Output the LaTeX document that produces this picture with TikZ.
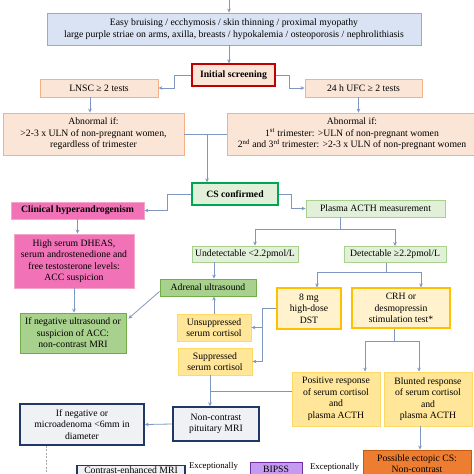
\documentclass[tikz,border=0pt]{standalone}
\usepackage{fontspec}
\setmainfont{Liberation Serif}
\usetikzlibrary{arrows.meta,calc}

\definecolor{lineblue}{HTML}{7F96C0}
\definecolor{bluefill}{HTML}{DAE3F3}
\definecolor{blueline}{HTML}{8FAADC}
\definecolor{peachfill}{HTML}{FBE5D6}
\definecolor{peachline}{HTML}{F4B183}
\definecolor{darkred}{HTML}{C00000}
\definecolor{mintfill}{HTML}{E2F0D9}
\definecolor{mintline}{HTML}{A9D18E}
\definecolor{leafline}{HTML}{70AD47}
\definecolor{csgreen}{HTML}{00A651}
\definecolor{pinkfill}{HTML}{F272B8}
\definecolor{pinkline}{HTML}{F4A6C9}
\definecolor{yellowfill}{HTML}{FFE699}
\definecolor{yellowline}{HTML}{FFD966}
\definecolor{creamfill}{HTML}{FFF2CC}
\definecolor{goldline}{HTML}{FFC000}
\definecolor{greyfill}{HTML}{F0F1F4}
\definecolor{navyline}{HTML}{1F3864}
\definecolor{lilacfill}{HTML}{C59BF2}
\definecolor{lilacline}{HTML}{7030A0}
\definecolor{orangefill}{HTML}{ED7D31}
\definecolor{orangeline}{HTML}{C55A11}

\tikzset{
  box/.style={rectangle, draw, line width=0.8pt, inner sep=1pt, align=center,
    font=\fontsize{9.7}{11.5}\selectfont},
  bluebox/.style={box, fill=bluefill, draw=blueline},
  peachbox/.style={box, fill=peachfill, draw=peachline},
  screenbox/.style={box, fill=peachfill, draw=darkred, line width=1.3pt},
  mintbox/.style={box, fill=mintfill, draw=mintline},
  confbox/.style={box, fill=mintfill, draw=csgreen, line width=1.3pt},
  leafbox/.style={box, fill=mintline, draw=leafline},
  pinkbox/.style={box, fill=pinkfill, draw=pinkline},
  yellowbox/.style={box, fill=yellowfill, draw=yellowline},
  testbox/.style={box, fill=creamfill, draw=goldline, line width=1.2pt},
  mribox/.style={box, fill=greyfill, draw=navyline, line width=1.4pt},
  lilacbox/.style={box, fill=lilacfill, draw=lilacline},
  orangebox/.style={box, fill=orangefill, draw=orangeline},
  note/.style={inner sep=0pt, font=\fontsize{8.8}{10}\selectfont},
  link/.style={draw=lineblue, line width=0.8pt},
  arr/.style={link, -{Stealth[length=4pt,width=3.6pt]}},
  dashline/.style={draw=gray!70, line width=0.8pt, dash pattern=on 2pt off 1.5pt}
}

\begin{document}
\begin{tikzpicture}[x=1pt, y=-1pt]
\useasboundingbox (0,0) rectangle (474,474);
\clip (0,0) rectangle (474,474);

\node[bluebox, minimum width=374pt, minimum height=32pt] (symp) at (234,29)
  {Easy bruising / ecchymosis / skin thinning / proximal myopathy\\
   large purple striae on arms, axilla, breasts / hypokalemia / osteoporosis / nephrolithiasis};
\node[screenbox, minimum width=83pt, minimum height=22pt] (init) at (233.5,75) {\textbf{Initial screening}};
\node[peachbox, minimum width=118pt, minimum height=18pt] (lnsc) at (99,88) {LNSC ≥ 2 tests};
\node[peachbox, minimum width=117pt, minimum height=18pt] (ufc) at (363.5,88) {24 h UFC ≥ 2 tests};
\node[peachbox, minimum width=181pt, minimum height=42pt] (abnl) at (93.5,134)
  {Abnormal if:\\>2-3 x ULN of non-pregnant women,\\regardless of trimester};
\node[peachbox, minimum width=250pt, minimum height=42pt] (abnr) at (352,134)
  {Abnormal if:\\1\textsuperscript{st} trimester: >ULN of non-pregnant women\\
   2\textsuperscript{nd} and 3\textsuperscript{rd} trimester: >2-3 x ULN of non-pregnant women};

\node[confbox, minimum width=86pt, minimum height=22pt] (cs) at (235,194) {\textbf{CS confirmed}};
\node[pinkbox, minimum width=133pt, minimum height=17pt] (hyp) at (77.5,210.5) {\textbf{Clinical hyperandrogenism}};
\node[mintbox, minimum width=139pt, minimum height=17pt] (acth) at (375.5,208.5) {Plasma ACTH measurement};
\node[pinkbox, minimum width=120pt, minimum height=54pt] (dheas) at (74,261)
  {High serum DHEAS,\\serum androstenedione and\\free testosterone levels:\\ACC suspicion};
\node[leafbox, minimum width=106pt, minimum height=40pt] (usn) at (73,333)
  {If negative ultrasound or\\suspicion of ACC:\\non-contrast MRI};

\node[mintbox, minimum width=106pt, minimum height=16pt] (undet) at (245,254) {Undetectable <2.2pmol/L};
\node[mintbox, minimum width=102pt, minimum height=16pt] (det) at (395,254.5) {Detectable ≥2.2pmol/L};
\node[leafbox, minimum width=96pt, minimum height=17pt] (adr) at (208,287.5) {Adrenal ultrasound};
\node[yellowbox, minimum width=74pt, minimum height=27pt] (unsup) at (214,327.5) {Unsuppressed\\serum cortisol};
\node[yellowbox, minimum width=74pt, minimum height=27pt] (sup) at (215,361.5) {Suppressed\\serum cortisol};
\node[testbox, minimum width=64pt, minimum height=41pt] (dst) at (309,308.5) {8 mg\\high-dose\\DST};
\node[testbox, minimum width=98pt, minimum height=40pt] (crh) at (401,308) {CRH or\\desmopressin\\stimulation test*};
\node[yellowbox, minimum width=88pt, minimum height=54pt] (pos) at (336,399)
  {Positive response\\of serum cortisol\\and\\plasma ACTH};
\node[yellowbox, minimum width=88pt, minimum height=54pt] (blu) at (428,399)
  {Blunted response\\of serum cortisol\\and\\plasma ACTH};

\node[mribox, minimum width=86pt, minimum height=34pt] (pit) at (216,424) {Non-contrast\\pituitary MRI};
\node[mribox, minimum width=124pt, minimum height=41pt] (neg) at (82,424.5)
  {If negative or\\microadenoma <6mm in\\diameter};
\node[mribox, minimum width=108pt, anchor=north, text height=6.5pt, text depth=14pt] (cem) at (131,465)
  {Contrast-enhanced MRI};
\node[note] (exc1) at (213.5,466) {Exceptionally};
\node[lilacbox, minimum width=52pt, anchor=north, text height=9.5pt, text depth=10pt] (bip) at (276,462) {BIPSS};
\node[note] (exc2) at (334.5,467) {Exceptionally};
\node[orangebox, minimum width=108pt, minimum height=27pt] (ect) at (417,463.5) {Possible ectopic CS:\\Non-contrast};

% screening
\coordinate (top) at (229,-2);
\draw[arr] (top) -- (top |- symp.north);
\draw[arr] (top |- symp.south) -- (top |- init.north);
\draw[arr] (init.west) -- ++(-17,0) |- (lnsc.east);
\draw[arr] (init.east) -- ++(14,0) |- (ufc.west);
\draw[arr] ([xshift=-9pt]lnsc.south) -- ([xshift=-9pt]lnsc.south |- abnl.north);
\draw[arr] ([xshift=-5pt]ufc.south) -- ([xshift=-5pt]ufc.south |- abnr.north);
\draw[link] (abnl.east) -- (abnr.west);
\coordinate (mrg) at (207,134);
\draw[arr] (mrg) -- (mrg |- cs.north);

% confirmed
\draw[arr] (cs.west) -- ++(-24,0) |- (hyp.east);
\draw[arr] (cs.east) -- ++(13,0) |- (acth.west);
\draw[arr] (hyp.south) -- (hyp.south |- dheas.north);
\draw[arr] (dheas.south) -- (dheas.south |- usn.north);
\coordinate (split) at (340,229);
\draw[link] (acth.south -| split) -- (split);
\draw[arr] (split) -| ([xshift=10pt]undet.north);
\draw[arr] (split) -| (det.north);

% ACTH undetectable
\draw[arr] (undet.south -| unsup) -- (unsup |- adr.north);
\draw[arr] (unsup.north) -- (unsup |- adr.south);
\draw[arr] ($(adr.south west)+(0,-5)$) -- ($(usn.north east)+(2,6)$);

% ACTH detectable
\coordinate (split2) at (386,272);
\draw[link] (det.south -| split2) -- (split2);
\draw[arr] (split2) -| ([xshift=8pt]dst.north);
\draw[arr] (split2) -| ([xshift=20pt]crh.north);
\draw[arr] (dst.west) -- ++(-14,0) |- (unsup.east);
\draw[arr] (dst.west) -- ++(-14,0) |- (sup.east);
\coordinate (split3) at (394,341);
\draw[link] (crh.south -| split3) -- (split3);
\draw[arr] (split3) -| ([xshift=29pt]pos.north);
\draw[arr] (split3) -| ([xshift=-9pt]blu.north);

% imaging
\coordinate (jn) at (210,391);
\draw[link] (sup.south -| jn) -- (jn);
\draw[link] (pos.west |- jn) -- (jn);
\draw[arr] (jn) -- (jn |- pit.north);
\draw[arr] (pit.west) -- (neg.east);
\draw[arr] ([xshift=-8pt]blu.south) -- ([xshift=-8pt]blu.south |- ect.north);
\coordinate (negend) at (46,480);
\draw[dashline] (neg.south -| negend) -- (negend);

\end{tikzpicture}
\end{document}
